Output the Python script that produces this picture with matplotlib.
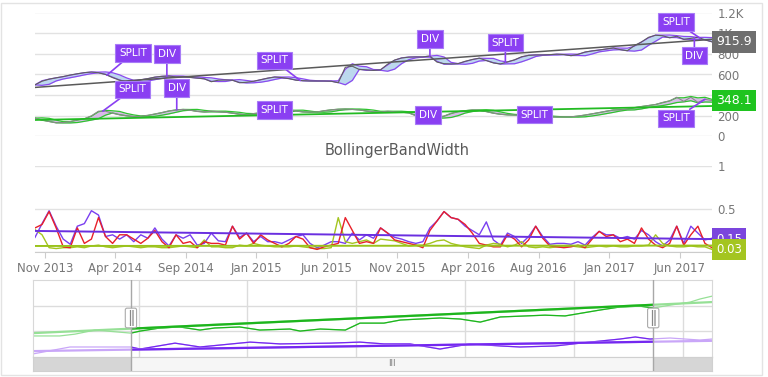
import matplotlib
matplotlib.use("Agg")
import matplotlib.pyplot as plt
import numpy as np
import pandas as pd
from matplotlib.patches import Rectangle

W, H = 768, 377

# x axis is an ordinal week index (the chart skips gaps, ticks are evenly spaced)
tick_weeks = [1.4 + 10 * k for k in range(10)]
tick_labels = ["Nov 2013", "Apr 2014", "Sep 2014", "Jan 2015", "Jun 2015",
               "Nov 2015", "Apr 2016", "Aug 2016", "Jan 2017", "Jun 2017"]

weeks = np.arange(97)

top_close = [500, 535, 555, 568, 580, 595, 607, 618, 624, 617,
             600, 570, 545, 528, 535, 550, 560, 575, 582, 586,
             576, 578, 572, 565, 558, 530, 545, 547, 545, 520,
             525, 535, 550, 565, 576, 570, 560, 545, 540, 537,
             537, 537, 535, 520, 670, 680, 648, 645, 640, 645,
             700, 740, 760, 768, 770, 770, 779, 720, 705, 702,
             705, 728, 745, 758, 735, 712, 702, 722, 742, 772,
             785, 789, 789, 792, 797, 793, 782, 795, 818, 828,
             837, 847, 857, 840, 830, 880, 915, 960, 980, 975,
             955, 970, 940, 950, 960, 935, 915.9]

low_close = [178, 160, 145, 132, 135, 145, 160, 172, 200, 245,
             245, 225, 210, 200, 192, 195, 205, 218, 232, 248,
             257, 262, 255, 242, 238, 246, 240, 235, 225, 215,
             208, 222, 228, 232, 237, 247, 255, 248, 237, 237,
             237, 250, 258, 264, 266, 262, 257, 245, 238, 237,
             245, 240, 235, 228, 200, 180, 179, 185, 198, 225,
             240, 250, 257, 255, 240, 225, 215, 210, 208, 208,
             206, 200, 195, 190, 189, 189, 190, 198, 208, 220,
             232, 245, 257, 258, 265, 280, 290, 300, 310, 330,
             345, 380, 340, 380, 330, 360, 348.1]

trend_weeks = [0, 96]
top_trend = [475, 940]
low_trend = [160, 295]

# (week, label, box offset in px) for the event markers
top_events = [(10.2, "SPLIT", 26, 22), (18.7, "DIV", 0, 22), (37.6, "SPLIT", -26, 20),
              (56.0, "DIV", 0, 17), (66.7, "SPLIT", 0, 20), (94.3, "SPLIT", -24, 16),
              (93.5, "DIV", 0, -18)]
low_events = [(9.6, "SPLIT", 30, 22), (20.1, "DIV", 0, 22), (34.0, "SPLIT", 0, 2),
              (55.7, "DIV", 0, 3), (70.8, "SPLIT", 0, 1), (95.0, "SPLIT", -29, -19)]

bbw_purple = [.17, .33, .48, .30, .15, .09, .30, .33, .48, .43,
              .18, .20, .15, .20, .12, .20, .16, .28, .15, .07,
              .20, .16, .20, .08, .10, .22, .13, .12, .30, .17,
              .22, .12, .18, .12, .12, .10, .14, .18, .20, .10,
              .05, .08, .12, .12, .10, .22, .14, .20, .16, .28,
              .22, .17, .15, .12, .10, .12, .28, .36, .47, .40,
              .38, .30, .25, .20, .35, .14, .08, .22, .18, .10,
              .18, .30, .18, .09, .10, .10, .09, .12, .08, .17,
              .24, .20, .20, .16, .18, .15, .25, .20, .12, .07,
              .14, .30, .10, .30, .22, .14, .16]
bbw_red = [.28, .32, .47, .28, .06, .05, .28, .10, .15, .40,
           .18, .10, .20, .20, .15, .10, .16, .25, .12, .05,
           .20, .10, .12, .05, .12, .10, .10, .08, .30, .15,
           .22, .10, .20, .14, .10, .06, .10, .18, .15, .05,
           .03, .06, .08, .10, .40, .25, .10, .12, .10, .28,
           .22, .14, .12, .10, .08, .05, .25, .36, .47, .40,
           .38, .32, .22, .10, .08, .06, .06, .20, .15, .06,
           .14, .30, .16, .07, .06, .05, .06, .08, .05, .15,
           .24, .18, .20, .12, .15, .10, .28, .15, .08, .05,
           .10, .30, .08, .20, .30, .10, .05]
bbw_green = [.26, .20, .05, .04, .05, .05, .06, .05, .07, .08,
             .06, .05, .06, .07, .06, .05, .06, .06, .05, .05,
             .06, .07, .06, .05, .14, .06, .06, .05, .05, .08,
             .07, .10, .08, .07, .06, .06, .06, .07, .06, .05,
             .04, .04, .05, .40, .12, .10, .12, .14, .10, .15,
             .14, .13, .10, .07, .08, .08, .10, .13, .14, .10,
             .08, .06, .05, .04, .08, .10, .09, .06, .08, .12,
             .06, .05, .06, .05, .06, .06, .07, .06, .05, .06,
             .07, .06, .07, .06, .06, .07, .07, .08, .20, .10,
             .07, .06, .06, .07, .06, .06, .03]
bbw_purple_trend = [0.245, 0.15]
bbw_green_trend = [0.07, 0.075]

# navigator (scroller) series, covering a longer period than the main plot
nav_green_weeks = [-18.0, -13.1, -10.3, -6.6, 0, 1.7, 5.3, 9.0, 12.7, 15.4, 20.0, 23.7,
                   29.2, 31.1, 34.8, 39.4, 42.1, 46.5, 49.5, 56.8, 60.5, 64.2, 67.9,
                   76.1, 79.8, 86.2, 89.9, 93.6, 96.0, 99.1, 102.8, 104.6, 106.8]
nav_green = [0.82, 0.82, 0.89, 1.05, 0.93, 1.01, 1.13, 1.17, 1.05, 1.13, 1.17, 1.05,
             1.09, 1.01, 1.09, 1.05, 1.32, 1.32, 1.44, 1.52, 1.48, 1.36, 1.56,
             1.63, 1.60, 1.83, 1.95, 1.98, 1.91, 2.02, 2.14, 2.26, 2.37]
nav_purple_weeks = [-18.0, -11.2, 0, 1.7, 8.1, 12.7, 21.9, 27.4, 36.6, 42.1, 46.5, 51.3,
                    56.8, 62.3, 67.9, 71.5, 78.0, 82.6, 86.2, 89.9, 92.7, 95.4, 99.1,
                    104.6, 106.8]
nav_purple = [0.12, 0.39, 0.39, 0.31, 0.54, 0.39, 0.58, 0.51, 0.54, 0.58, 0.51, 0.51,
              0.31, 0.51, 0.43, 0.39, 0.43, 0.54, 0.62, 0.70, 0.78, 0.70, 0.74,
              0.66, 0.70]
nav_trend_weeks = [-18.0, 106.8]
nav_green_trend = [0.93, 2.14]
nav_purple_trend = [0.23, 0.63]
selection = [0, 96]

EVENT = "#8a3ff2"
GRID = "#e2e2e2"
TXT = "#777777"


def px_axes(fig, x0, y0, x1, y1):
    return fig.add_axes([x0 / W, 1 - y1 / H, (x1 - x0) / W, (y1 - y0) / H])


def bands(values, window=3, k=0.9):
    s = pd.Series(values, dtype=float)
    mid = s.rolling(window, min_periods=1).mean()
    sd = s.rolling(window, min_periods=1).std().fillna(0)
    return (mid + k * sd).to_numpy(), (mid - k * sd).to_numpy()


def add_event(ax, series, week, label, dx, dy):
    y = np.interp(week, weeks, series)
    ax.annotate(label, xy=(week, y), xytext=(dx, dy), textcoords="offset pixels",
                ha="center", va="center", color="white", fontsize=7.5,
                bbox=dict(boxstyle="square,pad=0.35", fc=EVENT, ec="#a77cf7", lw=0.8),
                arrowprops=dict(arrowstyle="-", color=EVENT, lw=1.2, shrinkA=0, shrinkB=0),
                annotation_clip=False, zorder=6)


def last_label(ax, value, text, color, fontsize=9):
    ax.annotate(text, xy=(1, value), xycoords=("axes fraction", "data"),
                xytext=(4, 0), textcoords="offset pixels", ha="left", va="center",
                color="white", fontsize=fontsize,
                bbox=dict(boxstyle="square,pad=0.35", fc=color, ec="none"),
                annotation_clip=False, zorder=10)


fig = plt.figure(figsize=(W / 100, H / 100), dpi=100)
fig.add_artist(Rectangle((1 / W, 2 / H), 761 / W, 372 / H, transform=fig.transFigure,
                         fill=False, ec="#e3e3e3", lw=1))

# ---- price panel ----
ax = px_axes(fig, 35, 12.5, 712, 136.5)
ax.set_xlim(0, 96)
ax.set_ylim(0, 1200)

up, lo = bands(top_close)
ax.fill_between(weeks, lo, up, color="#bcd8ee", lw=0, zorder=2)
ax.plot(weeks, up, color="#8a4af0", lw=0.9, zorder=3)
ax.plot(weeks, lo, color="#8a4af0", lw=0.9, zorder=3)
ax.plot(weeks, top_close, color="#5f5f5f", lw=0.8, zorder=3)
ax.plot(trend_weeks, top_trend, color="#5a5a5a", lw=1.1, zorder=4)

up, lo = bands(low_close)
ax.fill_between(weeks, lo, up, color="#d9b9ea", lw=0, zorder=2)
ax.plot(weeks, up, color="#2ec42e", lw=0.9, zorder=3)
ax.plot(weeks, lo, color="#2ec42e", lw=0.9, zorder=3)
ax.plot(weeks, low_close, color="#8a8a8a", lw=0.8, zorder=3)
ax.plot(trend_weeks, low_trend, color="#22bb22", lw=1.3, zorder=4)

for wk, lab, dx, dy in top_events:
    add_event(ax, top_close, wk, lab, dx, dy)
for wk, lab, dx, dy in low_events:
    add_event(ax, low_close, wk, lab, dx, dy)

ax.yaxis.tick_right()
ax.set_yticks([0, 200, 400, 600, 800, 1000, 1200])
ax.set_yticklabels(["0", "200", "400", "600", "800", "1K", "1.2K"])
ax.tick_params(axis="y", length=0, pad=4, labelsize=8.5, labelcolor=TXT)
ax.set_xticks([])
ax.grid(axis="y", color=GRID, lw=1)
ax.set_axisbelow(True)
for s in ax.spines.values():
    s.set_visible(False)

last_label(ax, top_close[-1], f"{top_close[-1]:.1f}", "#6e6e6e")
last_label(ax, low_close[-1], f"{low_close[-1]:.1f}", "#1fc41f")

# ---- BollingerBandWidth panel ----
fig.text(397 / W, 1 - 151 / H, "BollingerBandWidth", ha="center", va="center",
         fontsize=10.5, color="#5a5a5a")
bx = px_axes(fig, 35, 166, 712, 252)
bx.set_xlim(0, 96)
bx.set_ylim(0, 1)
bx.plot(weeks, bbw_purple, color="#7a3ff0", lw=1, zorder=3)
bx.plot(weeks, bbw_red, color="#e8202a", lw=1, zorder=4)
bx.plot(weeks, bbw_green, color="#a4c520", lw=1, zorder=3)
bx.plot(trend_weeks, bbw_purple_trend, color="#6a2fe0", lw=1.4, zorder=5)
bx.plot(trend_weeks, bbw_green_trend, color="#9ac31c", lw=1.4, zorder=5)

bx.yaxis.tick_right()
bx.set_yticks([0, 0.5, 1])
bx.set_yticklabels(["0", "0.5", "1"])
bx.tick_params(axis="y", length=0, pad=4, labelsize=8.5, labelcolor=TXT)
bx.set_xticks(tick_weeks)
bx.set_xticklabels(tick_labels)
bx.tick_params(axis="x", length=4, color="#cccccc", labelsize=8.5, labelcolor=TXT, pad=3)
bx.grid(axis="y", color=GRID, lw=1)
bx.set_axisbelow(True)
for name, s in bx.spines.items():
    s.set_visible(name == "bottom")
bx.spines["bottom"].set_color("#cccccc")

last_label(bx, bbw_purple_trend[-1], f"{bbw_purple_trend[-1]:.2f}", "#7b45dd", 8.5)
last_label(bx, bbw_green[-1], f"{bbw_green[-1]:.2f}", "#a4c520", 8.5)

# ---- navigator ----
sc = px_axes(fig, 33, 280, 712, 357)
sc.set_xlim(-18, 106.8)
sc.set_ylim(0, 3)
sc.set_xticks(tick_weeks[::2] + [101.4])
sc.set_yticks([1, 2])
sc.grid(True, color="#dcdcdc", lw=1)
sc.tick_params(length=0, labelbottom=False, labelleft=False)
for s in sc.spines.values():
    s.set_color("#d8d8d8")

clip = Rectangle((selection[0], 0), selection[1] - selection[0], 3, transform=sc.transData)
for xs, ys, light, dark, lw in [
        (nav_green_weeks, nav_green, "#96e096", "#1db51d", 0.9),
        (nav_trend_weeks, nav_green_trend, "#96e096", "#1db51d", 1.6),
        (nav_purple_weeks, nav_purple, "#c9a6f8", "#7428f0", 0.9),
        (nav_trend_weeks, nav_purple_trend, "#c9a6f8", "#7428f0", 1.6)]:
    sc.plot(xs, ys, color=light, lw=lw)
    line, = sc.plot(xs, ys, color=dark, lw=lw)
    line.set_clip_path(clip)

sb = px_axes(fig, 33, 357, 712, 371)
sb.set_xlim(-18, 106.8)
sb.set_ylim(0, 1)
sb.set_facecolor("#f6f6f6")
sb.axvspan(-18, selection[0], color="#d6d6d6", lw=0)
sb.axvspan(selection[1], 106.8, color="#d6d6d6", lw=0)
sb.text(np.mean(selection), 0.5, "III", ha="center", va="center", fontsize=6, color="#777777")
sb.set_xticks([])
sb.set_yticks([])
for s in sb.spines.values():
    s.set_color("#d0d0d0")

for a in (sc, sb):
    for x in selection:
        a.axvline(x, color="#a8a8a8", lw=1, zorder=5)
for x in selection:
    sc.text(x, 1.52, "\u2016", ha="center", va="center", fontsize=11, color="#888888",
            bbox=dict(boxstyle="round,pad=0.12", fc="white", ec="#aaaaaa", lw=0.8), zorder=7)

fig.savefig("out.png", dpi=100)
